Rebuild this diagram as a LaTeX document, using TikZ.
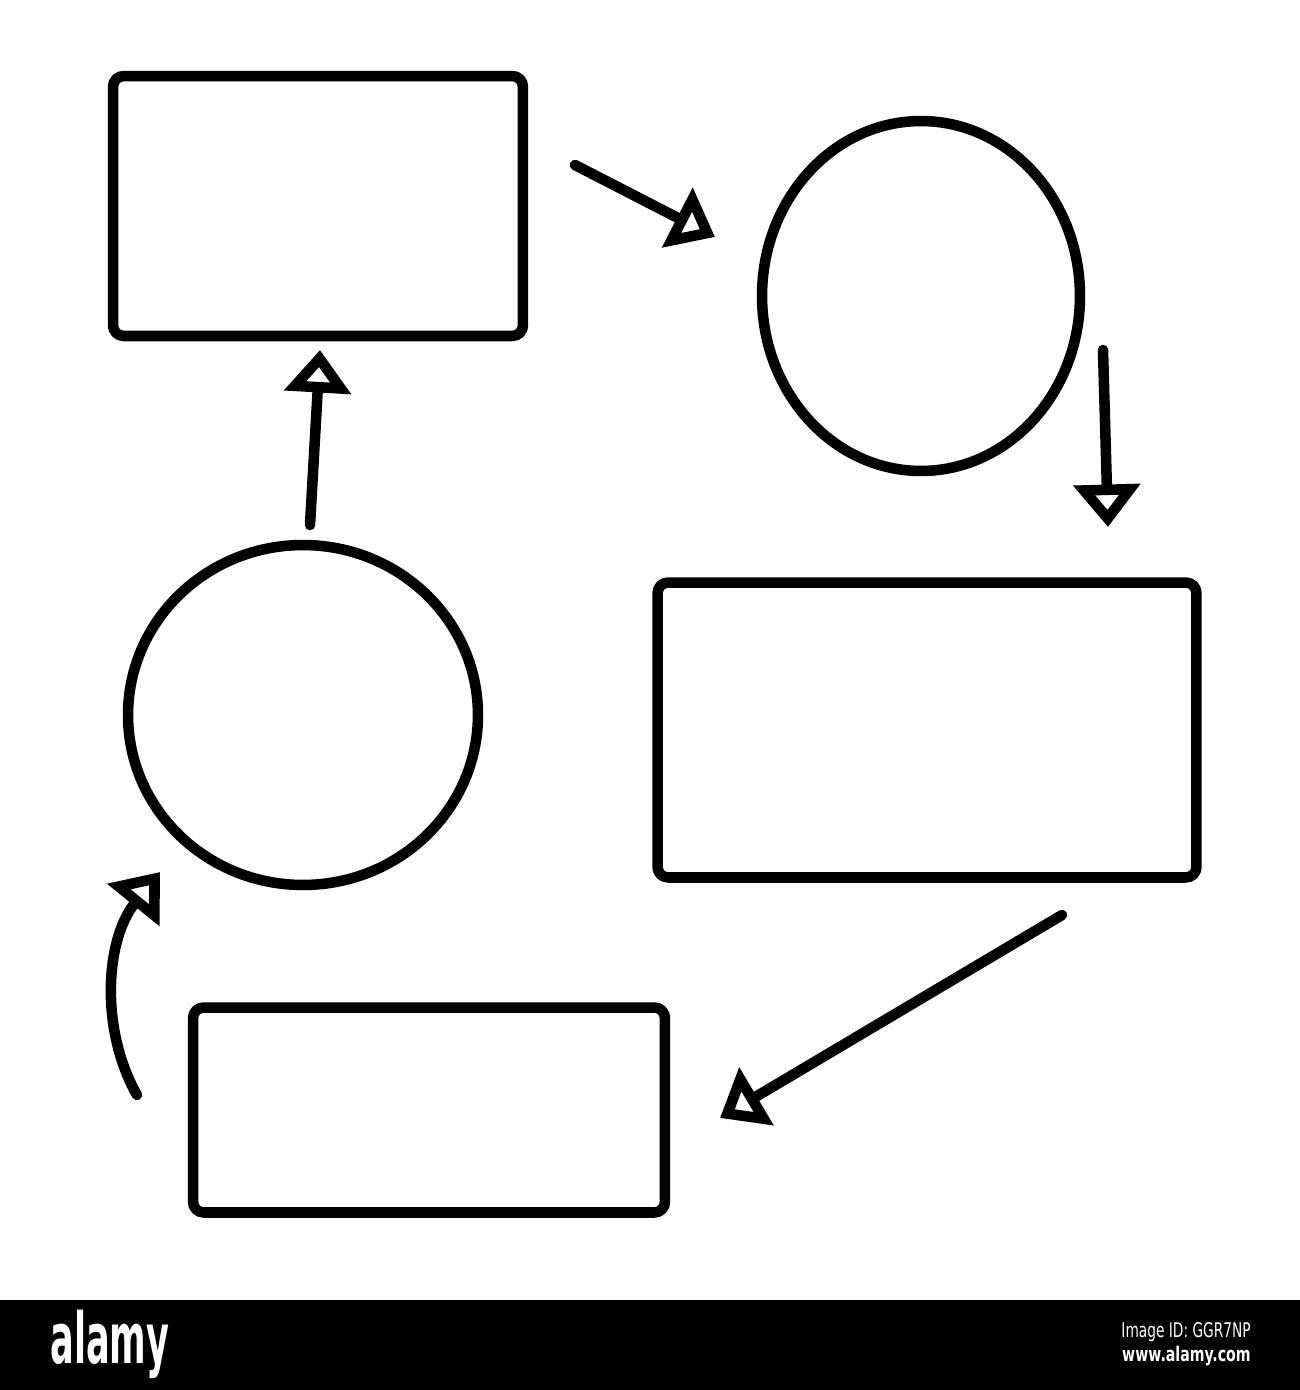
\documentclass[tikz,border=0pt]{standalone}
\usepackage{fontspec}
\usetikzlibrary{arrows.meta,shapes.geometric}
\newfontfamily\bannerfont{DejaVu Sans}
\tikzset{
  pen/.style={line width=6pt,line cap=round,line join=round},
  box/.style={pen,draw,rounded corners=6pt,inner sep=0pt},
  blob/.style={pen,draw,ellipse,inner sep=0pt},
  flow/.style={pen,-{Triangle[open,length=0.85cm,width=1.3cm]}}
}
\begin{document}
\begin{tikzpicture}[x=0.02cm,y=-0.02cm]
        \useasboundingbox (0,0) rectangle (1300,1390);
        % shapes of the cycle
        \node[box,minimum width=8.2cm,minimum height=5.2cm] (topbox) at (318,206) {};
        \node[blob,minimum width=6.36cm,minimum height=7cm] (topring) at (921,296) {};
        \node[box,minimum width=10.78cm,minimum height=5.9cm] (midbox) at (927,730) {};
        \node[box,minimum width=9.44cm,minimum height=4.1cm] (lowbox) at (429,1110) {};
        \node[blob,minimum width=7cm,minimum height=6.8cm] (leftring) at (303,715) {};
        % arrow ends
        \coordinate (a1) at (575,165);  \coordinate (b1) at (715,237);
        \coordinate (a2) at (1103,350); \coordinate (b2) at (1108,527);
        \coordinate (a3) at (1062,915); \coordinate (b3) at (720,1118);
        \coordinate (a4) at (137,1095); \coordinate (b4) at (160,872);
        \coordinate (a5) at (310,525);  \coordinate (b5) at (320,350);
        \draw[flow] (a1) -- (b1);
        \draw[flow] (a2) -- (b2);
        \draw[flow] (a3) -- (b3);
        \draw[flow] (a4) .. controls (100,1030) and (105,940) .. (b4);
        \draw[flow] (a5) -- (b5);
        % banner
        \fill[black] (0,1300) rectangle (1300,1390);
        \node[white,anchor=west,inner sep=0pt] (brand) at (50,1344)
          {\scalebox{0.5}[1]{\bannerfont\bfseries\fontsize{40}{40}\selectfont alamy}};
        \node[white,anchor=east,inner sep=0pt] (imgid) at (1251,1332)
          {\scalebox{0.68}[1]{\bannerfont\fontsize{11.5}{11.5}\selectfont Image ID: GGR7NP}};
        \node[white,anchor=east,inner sep=0pt] (site) at (1251,1356)
          {\scalebox{0.7}[1]{\bannerfont\bfseries\fontsize{11.5}{11.5}\selectfont www.alamy.com}};
      \end{tikzpicture}
\end{document}
